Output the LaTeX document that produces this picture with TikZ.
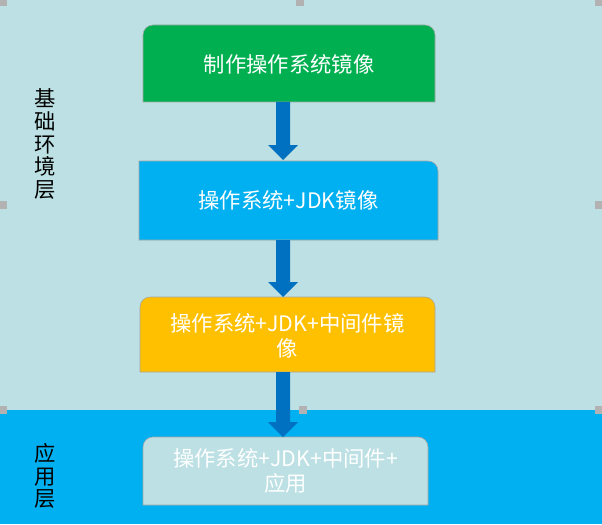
\documentclass[tikz,border=0pt]{standalone}
\usepackage{fontspec}
\setmainfont{Noto Sans CJK SC}
\definecolor{paleblue}{HTML}{BCE0E3}
\definecolor{skyblue}{HTML}{00B0F0}
\definecolor{boxgreen}{HTML}{00B050}
\definecolor{boxgold}{HTML}{FFC000}
\definecolor{arrowblue}{HTML}{0070C0}
\begin{document}
\begin{tikzpicture}[x=0.75pt,y=-0.75pt]
\tikzset{
  stage/.style={text=white,font=\fontsize{16}{19}\selectfont,align=center,inner sep=0pt},
  handle/.style={fill=gray!60}
}
\useasboundingbox (0,0) rectangle (602,524);

% layers
\fill[paleblue] (0,0) rectangle (602,410);
\fill[skyblue] (0,410) rectangle (602,524);

% stages
\draw[draw=gray!70,fill=boxgreen] (143,102) -- (143,35) arc (180:270:10) -- (425,25) arc (270:360:10) -- (435,102) -- cycle;
\node[stage] (base) at (289,64) {制作操作系统镜像};

\draw[draw=gray!70,fill=skyblue] (139,240) -- (139,161) -- (428,161) arc (270:360:10) -- (438,240) -- cycle;
\node[stage] (jdk) at (288.5,200.5) {操作系统+JDK镜像};

\draw[draw=gray!70,fill=boxgold] (140,372) -- (140,307) arc (180:270:10) -- (425,297) arc (270:360:10) -- (435,372) -- cycle;
\node[stage] (mid) at (287.5,336) {操作系统+JDK+中间件镜\\像};

\draw[draw=gray!70,fill=paleblue] (143,505) -- (143,447) arc (180:270:10) -- (418,437) arc (270:360:10) -- (428,505) -- cycle;
\node[stage] (app) at (285.5,471) {操作系统+JDK+中间件+\\应用};

% arrows
\foreach \ya/\yb in {102/160, 240/297, 372/437}{
  \fill[arrowblue] (276,\ya) -- (290,\ya) -- (290,\yb-15) -- (298,\yb-15)
    -- (283,\yb) -- (268,\yb-15) -- (276,\yb-15) -- cycle;
}

% layer labels
\node[align=center,font=\fontsize{16}{17}\selectfont] (baselbl) at (45,144) {基\\础\\环\\境\\层};
\node[align=center,font=\fontsize{16}{17}\selectfont] (applbl) at (45,476) {应\\用\\层};

% handles
\foreach \hx/\hy in {3/205, 599/205, 303/410, 3/410, 599/410, 300/2, 599/2, 3/2}
  \fill[handle] (\hx-4,\hy-4) rectangle (\hx+4,\hy+4);
\end{tikzpicture}
\end{document}
